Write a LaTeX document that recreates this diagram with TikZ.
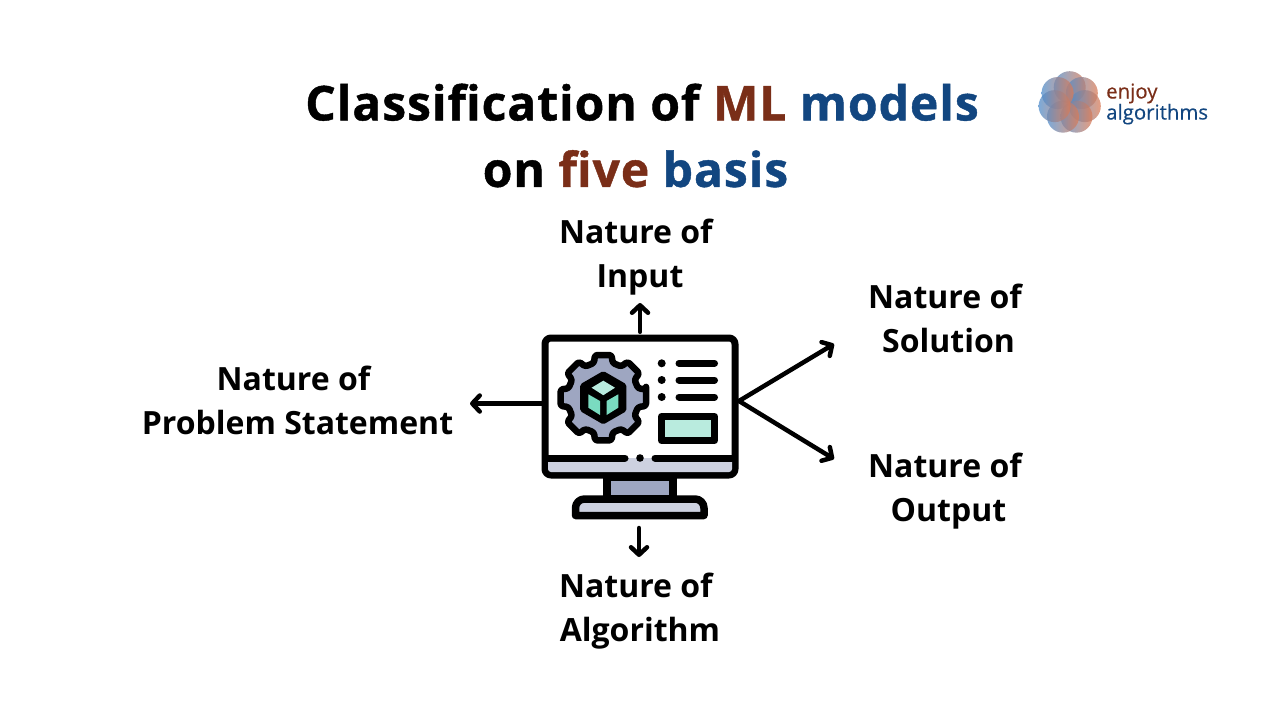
\documentclass[tikz,border=0pt]{standalone}
\usepackage{fontspec}
\setmainfont{Open Sans}
\newfontfamily\logofont[FakeBold=0.35]{Open Sans}
\newfontfamily\heavyfont[BoldFeatures={FakeBold=0.9,LetterSpace=2}]{Open Sans}
\usetikzlibrary{arrows.meta,calc}
\definecolor{tbrown}{HTML}{7A2E18}
\definecolor{tblue}{HTML}{124680}
\definecolor{slate}{HTML}{9EA6C1}
\definecolor{pale}{HTML}{CDD1E0}
\definecolor{mint}{HTML}{B9EBDE}
\definecolor{teal}{HTML}{7ADBC0}
\definecolor{petalL}{HTML}{4F8CCB}
\definecolor{petalR}{HTML}{DC7B55}
\tikzset{
  titletext/.style={align=center,inner sep=0pt,font=\heavyfont\bfseries\fontsize{48}{66.5}\selectfont},
  labeltext/.style={align=center,inner sep=0pt,font=\bfseries\fontsize{32}{44}\selectfont},
  ink/.style={draw=black,line width=7,line join=round,line cap=round},
  link/.style={draw=black,line width=4.5,line cap=round,-{Straight Barb[length=7.5pt,width=16pt,round]}},
  petal/.style={left color=petalL,right color=petalR,fill opacity=.74,draw=none},
}
\begin{document}
\begin{tikzpicture}[x=1pt,y=-1pt]
\useasboundingbox (0,0) rectangle (1280,720);
\fill[white] (0,0) rectangle (1280,720);

% title
\node[titletext] (title) at (642,135.5) {Classification of {\color{tbrown}ML} {\color{tblue}models}\\[0pt]on {\color{tbrown}five} {\color{tblue}basis}\hspace{13pt}\mbox{}};

% logo
\coordinate (logoc) at (1069.7,102.7);
\foreach \a in {-90,-38.6,12.8,64.2,115.7,167.1,218.5}
  \shade[petal] ($(logoc)+(\a:15.5)$) circle[radius=16];
\node[anchor=base west,inner sep=0pt,text=tbrown,font=\logofont\fontsize{20.4}{20}\selectfont] (enjoy) at (1106,98.5) {enjoy};
\node[anchor=base west,inner sep=0pt,text=tblue,font=\logofont\fontsize{20.4}{20}\selectfont] (algo) at (1106,119.5) {algorithms};

% monitor screen
\filldraw[ink,fill=white,rounded corners=6] (545,338) rectangle (735,475);
\fill[pale,rounded corners=3] (548,458) rectangle (732,472);
\draw[ink] (548,458) -- (625,458);
\draw[ink] (655,458) -- (732,458);
\fill (640,458) circle[radius=3.8];
% stand
\filldraw[ink,line width=7.5,fill=slate] (607,477) rectangle (673,499);
\filldraw[ink,line width=7.5,fill=pale] (575.5,515.5) [rounded corners=9] -- (575.5,499) -- (704,499) [sharp corners] -- (704,515.5) -- cycle;
% gear
\begin{scope}[shift={(603.3,397.7)}]
\filldraw[draw=black,line width=6.5,line join=round,fill=slate,rounded corners=2.5]
  (-11:43.5) \foreach \a in {0,45,...,315} {
    -- (\a-11:43.5) -- (\a+11:43.5) -- (\a+15:36) -- (\a+30:36)
  } -- cycle;
\filldraw[draw=black,line width=6.5,line join=round,fill=black]
  (90:23) -- (30:23) -- (-30:23) -- (-90:23) -- (-150:23) -- (150:23) -- cycle;
\fill[mint] (0,-17) -- (11.7,-10) -- (0,-2.5) -- (-11.7,-10) -- cycle;
\fill[teal] (-15,-3.4) -- (-3.3,3.3) -- (-3.3,17.3) -- (-15,10) -- cycle;
\fill[teal] (15,-3.4) -- (3.3,3.3) -- (3.3,17.3) -- (15,10) -- cycle;
\end{scope}
% list
\foreach \y in {363.3,380,397} {
  \fill (661.7,\y) circle[radius=4];
  \draw[ink] (679,\y) -- (714.5,\y);
}
\filldraw[ink,fill=mint,line cap=butt] (661.5,416.5) rectangle (714.5,440.5);

% labels
\node[labeltext] (input) at (640,257) {Nature of\ \ \\Input};
\node[labeltext] (solution) at (945,318) {Nature of\\\hspace{7pt}Solution};
\node[labeltext] (output) at (945,491) {Nature of\\\hspace{7pt}Output};
\node[labeltext] (problem) at (297.5,400) {Nature of\hspace{8pt}\mbox{}\\Problem Statement};
\node[labeltext] (algorithm) at (640,611) {Nature of\ \ \\Algorithm};

% connectors
\node[minimum width=196,minimum height=145,inner sep=0pt] (monitor) at (640,406.5) {};
\coordinate (hub) at (739,401);
\coordinate (toinput) at (640,303);
\coordinate (toalgo) at (639,557);
\coordinate (toproblem) at (470,403.5);
\coordinate (tosolution) at (834,344);
\coordinate (tooutput) at (834,459);
\draw[link] (monitor.north) ++(0,-2) -- (toinput);
\draw[link] (639,528) -- (toalgo);
\draw[link] (monitor.west |- toproblem) -- (toproblem);
\draw[link] (hub) -- (tosolution);
\draw[link] (hub) -- (tooutput);
\end{tikzpicture}
\end{document}
